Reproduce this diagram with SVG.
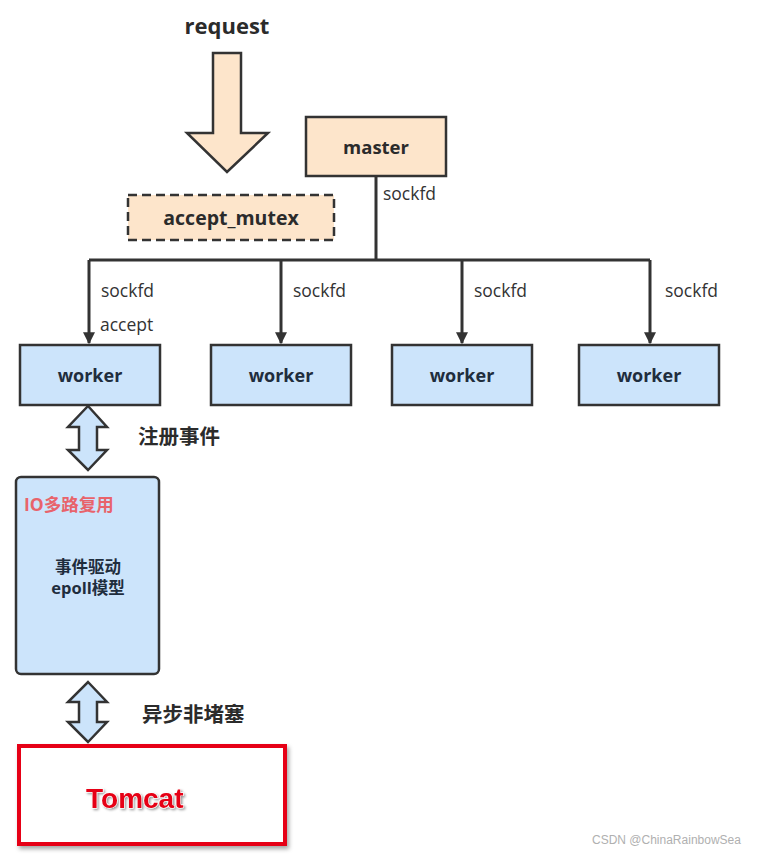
<svg xmlns="http://www.w3.org/2000/svg" width="768" height="854" viewBox="0 0 768 854">
<defs>
<style>
.peach{fill:#fde5cb;stroke:#333;stroke-width:2.5}
.blue{fill:#cce4fb;stroke:#333;stroke-width:2.5}
.lbl{font-family:"Open Sans","Noto Sans","Noto Sans CJK SC",sans-serif;font-size:17.5px;fill:#333}
.bold{font-family:"Open Sans","Noto Sans","Noto Sans CJK SC",sans-serif;font-weight:bold;fill:#2b2b2b}
.wk{font-family:"Open Sans","Noto Sans",sans-serif;font-weight:bold;font-size:18px;fill:#1f2d3d;text-anchor:middle}
.ln{stroke:#333;stroke-width:3;fill:none}
.dbl{fill:#cce4fb;stroke:#333;stroke-width:2.5;stroke-linejoin:miter}
</style>
<marker id="ah" viewBox="0 0 10 10" refX="9" refY="5" markerWidth="4" markerHeight="4.5" orient="auto" markerUnits="strokeWidth">
<path d="M0,0 L10,5 L0,10 z" fill="#333"/>
</marker>
<filter id="sh" x="-10%" y="-10%" width="120%" height="130%">
<feDropShadow dx="2" dy="3" stdDeviation="2" flood-color="#000" flood-opacity="0.35"/>
</filter>
<filter id="tsh" x="-10%" y="-20%" width="130%" height="150%">
<feDropShadow dx="1.5" dy="1.5" stdDeviation="1" flood-color="#000" flood-opacity="0.4"/>
</filter>
</defs>
<rect width="768" height="854" fill="#fff"/>

<g id="request">
<text x="227" y="34" class="bold" font-size="22" text-anchor="middle">request</text>
<path d="M213,53 L241,53 L241,133 L268,133 L227,172 L187,133 L213,133 Z" class="peach" stroke-width="2"/>
</g>

<g id="master">
<rect x="306" y="117" width="140" height="59" class="peach"/>
<text x="376" y="154" class="bold" font-size="18.5" text-anchor="middle">master</text>
</g>

<g id="accept_mutex">
<rect x="128" y="195" width="206" height="45" class="peach" stroke-dasharray="9,5"/>
<text x="231" y="225" class="bold" font-size="19.5" text-anchor="middle">accept_mutex</text>
</g>

<g id="connectors">
<path d="M376,176 L376,260" class="ln"/>
<path d="M89,260 L650,260" class="ln"/>
<path d="M89,260 L89,343" class="ln" marker-end="url(#ah)"/>
<path d="M281,260 L281,343" class="ln" marker-end="url(#ah)"/>
<path d="M462,260 L462,343" class="ln" marker-end="url(#ah)"/>
<path d="M650,260 L650,343" class="ln" marker-end="url(#ah)"/>
<text x="383" y="200" class="lbl">sockfd</text>
<text x="101" y="297" class="lbl">sockfd</text>
<text x="100" y="331" class="lbl">accept</text>
<text x="293" y="297" class="lbl">sockfd</text>
<text x="474" y="297" class="lbl">sockfd</text>
<text x="665" y="297" class="lbl">sockfd</text>
<path d="M88,406 L107,427 L97,427 L97,450 L107,450 L88,470 L68,450 L79,450 L79,427 L68,427 Z" class="dbl"/>
<text x="138" y="444" class="bold" font-size="20.5">注册事件</text>
<path d="M88,682 L107,702 L97,702 L97,722 L107,722 L88,742 L68,722 L79,722 L79,702 L68,702 Z" class="dbl"/>
<text x="142" y="722" class="bold" font-size="20.5">异步非堵塞</text>
</g>

<g id="worker1">
<rect x="20" y="345" width="140" height="60" class="blue"/>
<text x="90" y="382" class="wk">worker</text>
</g>
<g id="worker2">
<rect x="211" y="345" width="140" height="60" class="blue"/>
<text x="281" y="382" class="wk">worker</text>
</g>
<g id="worker3">
<rect x="392" y="345" width="140" height="60" class="blue"/>
<text x="462" y="382" class="wk">worker</text>
</g>
<g id="worker4">
<rect x="579" y="345" width="140" height="60" class="blue"/>
<text x="649" y="382" class="wk">worker</text>
</g>

<g id="epoll">
<rect x="16" y="477" width="143" height="197" rx="5" class="blue"/>
<text x="24" y="511" class="bold" font-size="17.5" style="fill:#e8636b">IO多路复用</text>
<text x="88" y="573" class="bold" font-size="16.5" text-anchor="middle" style="fill:#1f2d3d">事件驱动</text>
<text x="88" y="594" class="bold" font-size="16.5" text-anchor="middle" style="fill:#1f2d3d">epoll模型</text>
</g>

<g id="tomcat">
<rect x="19" y="746" width="266" height="98" fill="#fff" stroke="#e60012" stroke-width="4" filter="url(#sh)"/>
<text x="86" y="808" font-family="Liberation Sans,Arial,sans-serif" font-weight="bold" font-size="28" fill="#e60012" stroke="#fff" stroke-width="1" paint-order="stroke" filter="url(#tsh)">Tomcat</text>
</g>

<text x="592" y="844" font-family="Liberation Sans,Arial,sans-serif" font-size="12" fill="#b0b0b0">CSDN @ChinaRainbowSea</text>
</svg>
